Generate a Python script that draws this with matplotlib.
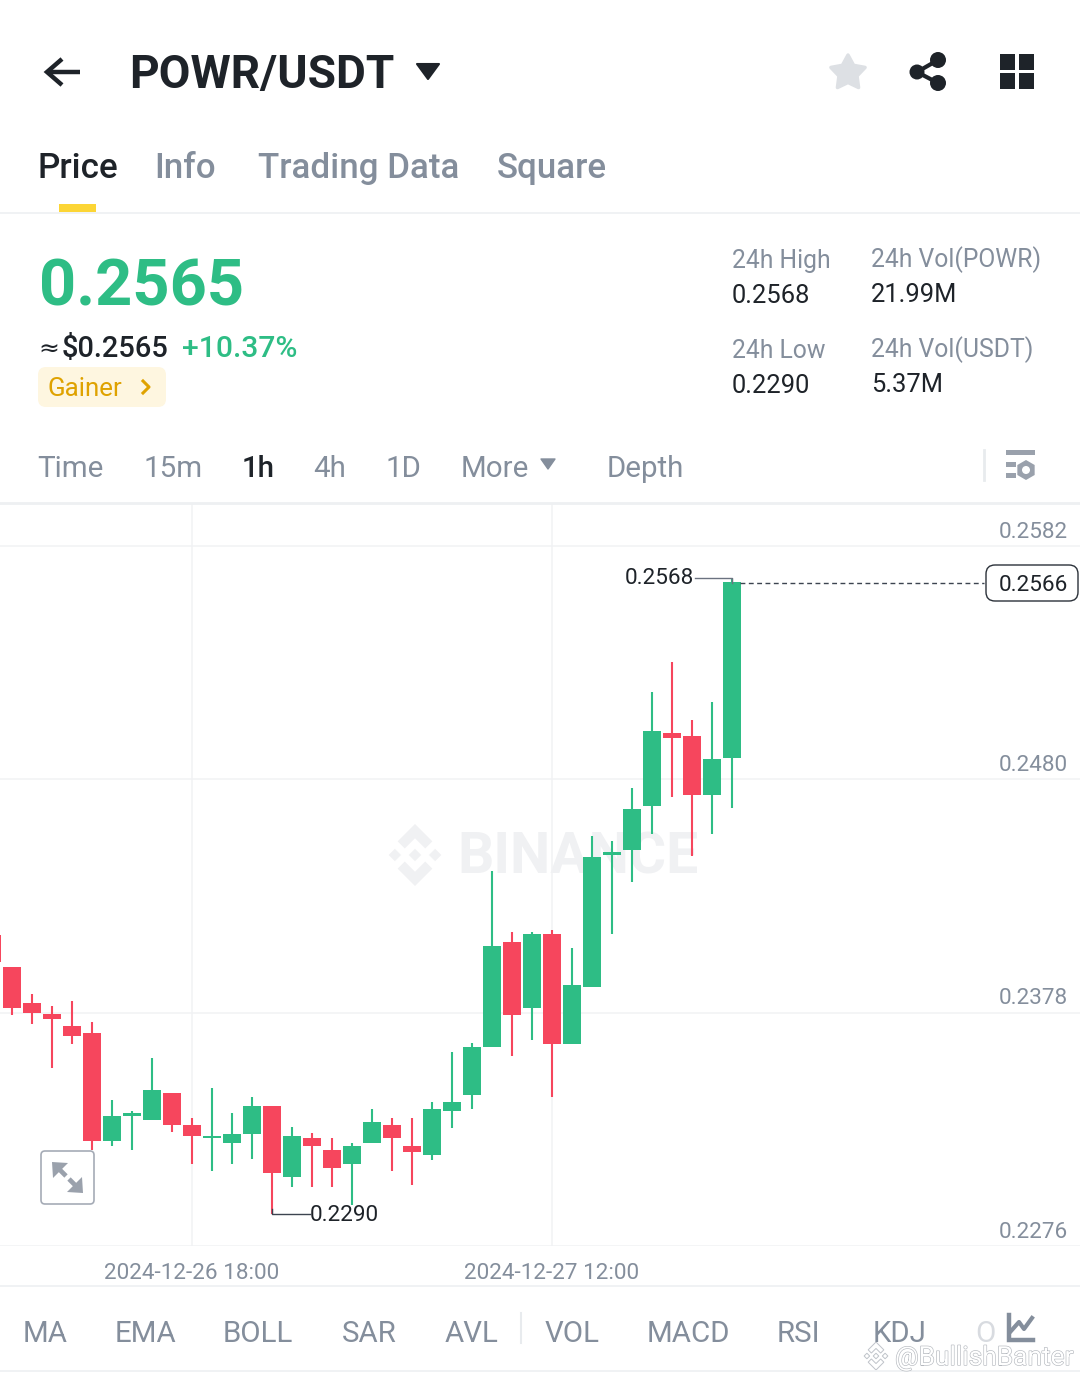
import matplotlib as mpl
mpl.use('Agg')
import matplotlib.pyplot as plt
import matplotlib.patheffects as pe
from matplotlib.patches import Polygon, Rectangle, Circle, FancyBboxPatch
import numpy as np

plt.rcParams['font.family'] = ['Roboto', 'DejaVu Sans']

# hourly candles
opens = [.24120, .23981, .23821, .23772, .23721, .23690, .23221, .23330, .23310, .23431,
         .23290, .23230, .23210, .23250, .23371, .23061, .23230, .23180, .23120, .23210,
         .23290, .23198, .23159, .23351, .23421, .23631, .24090, .23801, .24122, .23641,
         .23893, .24471, .24491, .24682, .25003, .24991, .24730, .24894]
highs = [.24120, .23981, .23861, .23810, .23830, .23740, .23399, .23352, .23581, .23431,
         .23320, .23450, .23341, .23411, .23371, .23281, .23252, .23230, .23210, .23360,
         .23320, .23320, .23390, .23609, .23648, .24401, .24133, .24133, .24140, .24063,
         .24551, .24531, .24762, .25182, .25311, .25061, .25139, .25680]
lows = [.24002, .23770, .23730, .23540, .23641, .23180, .23199, .23180, .23310, .23260,
        .23120, .23090, .23120, .23141, .22900, .23020, .23020, .23020, .22940, .23210,
        .23090, .23027, .23137, .23277, .23360, .23631, .23589, .23661, .23412, .23641,
        .23893, .24122, .24352, .24561, .24723, .24464, .24561, .24675]
closes = [.24002, .23800, .23780, .23752, .23680, .23221, .23329, .23342, .23440, .23291,
          .23240, .23242, .23250, .23370, .23080, .23240, .23199, .23100, .23199, .23300,
          .23230, .23172, .23360, .23390, .23631, .24070, .23770, .24122, .23641, .23901,
          .24461, .24481, .24671, .25012, .24981, .24730, .24891, .25663]

price_ticks = [0.2582, 0.2480, 0.2378, 0.2276]
price_labels = ['0.2582', '0.2480', '0.2378', '0.2276']
date_ticks = [9, 27]
date_labels = ['2024-12-26 18:00', '2024-12-27 12:00']
last_price = 0.2566
high_price = 0.2568
low_price = 0.2290

tabs = [('Price', 38), ('Info', 154), ('Trading Data', 258), ('Square', 497)]
periods = [('Time', 37), ('15m', 144), ('1h', 242), ('4h', 313), ('1D', 386), ('More', 461), ('Depth', 607)]
indicators = [('MA', 23), ('EMA', 115), ('BOLL', 223), ('SAR', 342), ('AVL', 445), ('VOL', 545),
              ('MACD', 647), ('RSI', 777), ('KDJ', 873)]
stats = [('24h High', 732, 268, 'g'), ('0.2568', 732, 303, 'd'), ('24h Low', 732, 358, 'g'), ('0.2290', 732, 393, 'd'),
         ('24h Vol(POWR)', 871, 267, 'g'), ('21.99M', 871, 302, 'd'), ('24h Vol(USDT)', 871, 357, 'g'), ('5.37M', 871, 392, 'd')]

GREEN = '#2EBD85'
RED = '#F6465D'
DARK = '#1E2329'
GREY = '#848E9C'
LINE = '#F1F2F4'
W, H = 1080, 1378

fig = plt.figure(figsize=(W / 100, H / 100), dpi=100, facecolor='white')


def px_axes(z):
    a = fig.add_axes([0, 0, 1, 1], zorder=z)
    a.set_xlim(0, W)
    a.set_ylim(H, 0)
    a.axis('off')
    a.patch.set_alpha(0)
    return a


def px(size):
    return size * 0.72


def logo(a, cx, cy, r, **kw):
    shapes = [
        [(0, .2), (.2, 0), (0, -.2), (-.2, 0)],
        [(-.65, .2), (-.45, 0), (-.65, -.2), (-.85, 0)],
        [(.65, .2), (.85, 0), (.65, -.2), (.45, 0)],
        [(0, 1), (.56, .44), (.33, .21), (0, .54), (-.33, .21), (-.56, .44)],
        [(0, -1), (.56, -.44), (.33, -.21), (0, -.54), (-.33, -.21), (-.56, -.44)],
    ]
    for s in shapes:
        a.add_patch(Polygon([(cx + x * r, cy - y * r) for x, y in s], closed=True, **kw))


under = px_axes(0)
over = px_axes(2)

# watermark sits behind the candles
logo(under, 415, 855, 31, fc='#F0F1F3', ec='none')
under.text(457, 873, 'BINANCE', fontsize=px(57), fontweight='bold', color='#F0F1F3', va='baseline')

# chart
top_px, bot_px = 504, 1246
per_px = (price_ticks[0] - price_ticks[-1]) / (1246 - 546)
ax = fig.add_axes([0, 1 - bot_px / H, 1, (bot_px - top_px) / H], zorder=1)
ax.patch.set_alpha(0)
for s in ax.spines.values():
    s.set_visible(False)
x = np.arange(len(opens)) - 1
ax.set_xlim(-0.6, 53.4)
ax.set_ylim(price_ticks[-1], price_ticks[0] + 42 * per_px)
ax.set_yticks(price_ticks)
ax.set_yticklabels([])
ax.set_xticks(date_ticks)
ax.set_xticklabels(date_labels, fontsize=px(22.5), color=GREY)
ax.tick_params(length=0, pad=12)
ax.grid(True, color=LINE, lw=1.1)
ax.set_axisbelow(True)
for val, lab in zip(price_ticks, price_labels):
    ax.annotate(lab, xy=(1, val), xycoords=('axes fraction', 'data'), xytext=(-12, 14),
                textcoords='offset pixels', ha='right', va='center', fontsize=px(22.5), color=GREY)

o, h, l, c = map(np.array, (opens, highs, lows, closes))
colors = [GREEN if cl >= op else RED for op, cl in zip(o, c)]
ax.vlines(x, l, h, colors=colors, lw=1.5, zorder=3)
ax.bar(x, np.maximum(np.abs(c - o), 0.00006), bottom=np.minimum(o, c), width=0.885, color=colors, zorder=4)

# high / low / last markers
ax.plot([34.15, 36, 36], [high_price, high_price, high_price - 5 * per_px], color='#6B7280', lw=1, zorder=5)
ax.plot([13, 13, 14.9], [low_price + 5 * per_px, low_price, low_price], color='#3C4450', lw=1, zorder=5)
ax.plot([36.4, 48.6], [last_price, last_price], color='#3C4450', lw=1, ls=(0, (3.5, 2.5)), zorder=5)
over.text(694, 584, '0.2568', fontsize=px(22.5), color=DARK, ha='right', va='baseline')
over.text(310, 1221, '0.2290', fontsize=px(22.5), color=DARK, ha='left', va='baseline')
over.add_patch(FancyBboxPatch((986, 565), 92, 36, boxstyle='round,pad=0,rounding_size=9', fc='white', ec='#2B3139', lw=1))
over.text(1033, 591, '0.2566', fontsize=px(22.5), color=DARK, ha='center', va='baseline')

# header
over.plot([49, 80], [72, 72], color=DARK, lw=3.2, solid_capstyle='butt')
over.plot([62, 47, 62], [59, 72, 85], color=DARK, lw=3.2, solid_joinstyle='miter', solid_capstyle='butt')
over.text(129, 88, 'POWR/USDT', fontsize=px(46), fontweight='bold', color=DARK, va='baseline')
over.add_patch(Polygon([(417, 64), (439, 64), (428, 79)], fc=DARK, ec=DARK, lw=1.5, joinstyle='round'))

ang = np.pi / 2 + np.arange(10) * np.pi / 5
rad = np.where(np.arange(10) % 2 == 0, 18, 9.5)
over.add_patch(Polygon(np.c_[848 + rad * np.cos(ang), 73 - rad * np.sin(ang)], fc='#DDE0E4', ec='#DDE0E4', lw=2.5, joinstyle='round'))

over.plot([938, 917, 938], [60, 72, 83], color=DARK, lw=3)
for cx, cy, r in [(938, 60, 8), (938, 83, 8), (917, 72, 7.5)]:
    over.add_patch(Circle((cx, cy), r, fc=DARK, ec='none'))
for gx in (1000, 1019):
    for gy in (54, 73):
        over.add_patch(Rectangle((gx, gy), 15, 16, fc=DARK, ec='none'))

# tabs
for i, (name, tx) in enumerate(tabs):
    over.text(tx, 178, name, fontsize=px(35), fontweight='medium', color=DARK if i == 0 else GREY, va='baseline')
over.add_patch(Rectangle((59, 204), 37, 8, fc='#FCD535', ec='none'))
over.plot([0, W], [212.5, 212.5], color='#EEF0F2', lw=1.2)

# price block
over.text(39, 305, '0.2565', fontsize=px(65), fontweight='bold', color=GREEN, va='baseline')
over.text(38, 357, '≈', fontsize=px(25), color=DARK, va='baseline', family=['DejaVu Sans'])
over.text(62, 357, '$0.2565', fontsize=px(29), fontweight='medium', color=DARK, va='baseline')
over.text(182, 357, '+10.37%', fontsize=px(30), fontweight='medium', color=GREEN, va='baseline')
over.add_patch(FancyBboxPatch((38, 367), 128, 40, boxstyle='round,pad=0,rounding_size=8', fc='#FEF6E0', ec='none'))
over.text(47.5, 396, 'Gainer', fontsize=px(26), color='#DFA200', va='baseline')
over.plot([143, 149, 143], [381, 387, 393], color='#DFA200', lw=2.2)
for s, tx, ty, kind in stats:
    over.text(tx, ty, s, fontsize=px(25.5 if kind == 'd' else 24.8), color=DARK if kind == 'd' else GREY, va='baseline')

# period row
for name, tx in periods:
    active = name == '1h'
    over.text(tx, 477, name, fontsize=px(29.5), fontweight='medium' if active else 'normal',
              color=DARK if active else GREY, va='baseline')
over.add_patch(Polygon([(541, 459), (555, 459), (548, 469)], fc=GREY, ec=GREY, lw=1, joinstyle='round'))
over.plot([983.5, 983.5], [450, 480], color='#E8EBEE', lw=2)
over.add_patch(Rectangle((1006, 450), 29, 5, fc='#9AA1AC', ec='none'))
over.add_patch(Rectangle((1006, 462), 10, 5, fc='#9AA1AC', ec='none'))
over.add_patch(Rectangle((1006, 473), 10, 5, fc='#9AA1AC', ec='none'))
hex_ang = np.pi / 2 + np.arange(6) * np.pi / 3
over.add_patch(Polygon(np.c_[1026 + 10 * np.cos(hex_ang), 470 - 10 * np.sin(hex_ang)], fc='#9AA1AC', ec='none'))
over.add_patch(Circle((1026, 470), 4, fc='white', ec='none'))
over.plot([0, W], [503, 503], color='#EEF0F2', lw=2)

# expand button
over.add_patch(FancyBboxPatch((41, 1151), 53, 53, boxstyle='round,pad=0,rounding_size=4', fc='white', ec='#A5ABB6', lw=1.2))
over.add_patch(Polygon([(52, 1162), (68, 1163), (53, 1178)], fc='#9AA1AC', ec='none'))
over.add_patch(Polygon([(83, 1193), (67, 1192), (82, 1177)], fc='#9AA1AC', ec='none'))
over.plot([58, 66], [1168, 1176], color='#9AA1AC', lw=3.4, solid_capstyle='butt')
over.plot([69, 77], [1179, 1187], color='#9AA1AC', lw=3.4, solid_capstyle='butt')

# indicator row
over.plot([0, W], [1286, 1286], color='#EEF0F2', lw=1.2)
for name, tx in indicators:
    over.text(tx, 1342, name, fontsize=px(29.5), color=GREY, va='baseline')
over.text(975, 1342, 'O', fontsize=px(29.5), color='#D8DBE0', va='baseline')
over.plot([520.5, 520.5], [1313, 1343], color='#E8EBEE', lw=1.5)
over.plot([1009, 1009, 1033], [1315, 1340, 1340], color=GREY, lw=3.2, solid_joinstyle='miter')
over.plot([1011, 1019, 1024, 1032], [1331, 1322, 1329, 1318], color=GREY, lw=3)
over.plot([0, W], [1370.5, 1370.5], color='#EEF0F2', lw=1.2)

# uploader watermark
logo(over, 876, 1356, 14, fc='white', ec='#BFC3C9', lw=0.7)
over.text(895, 1365, '@BullishBanter', fontsize=px(26.3), color='white', va='baseline',
          path_effects=[pe.withStroke(linewidth=0.9, foreground='#B4B8BE')])

fig.savefig('out.png', dpi=100)
